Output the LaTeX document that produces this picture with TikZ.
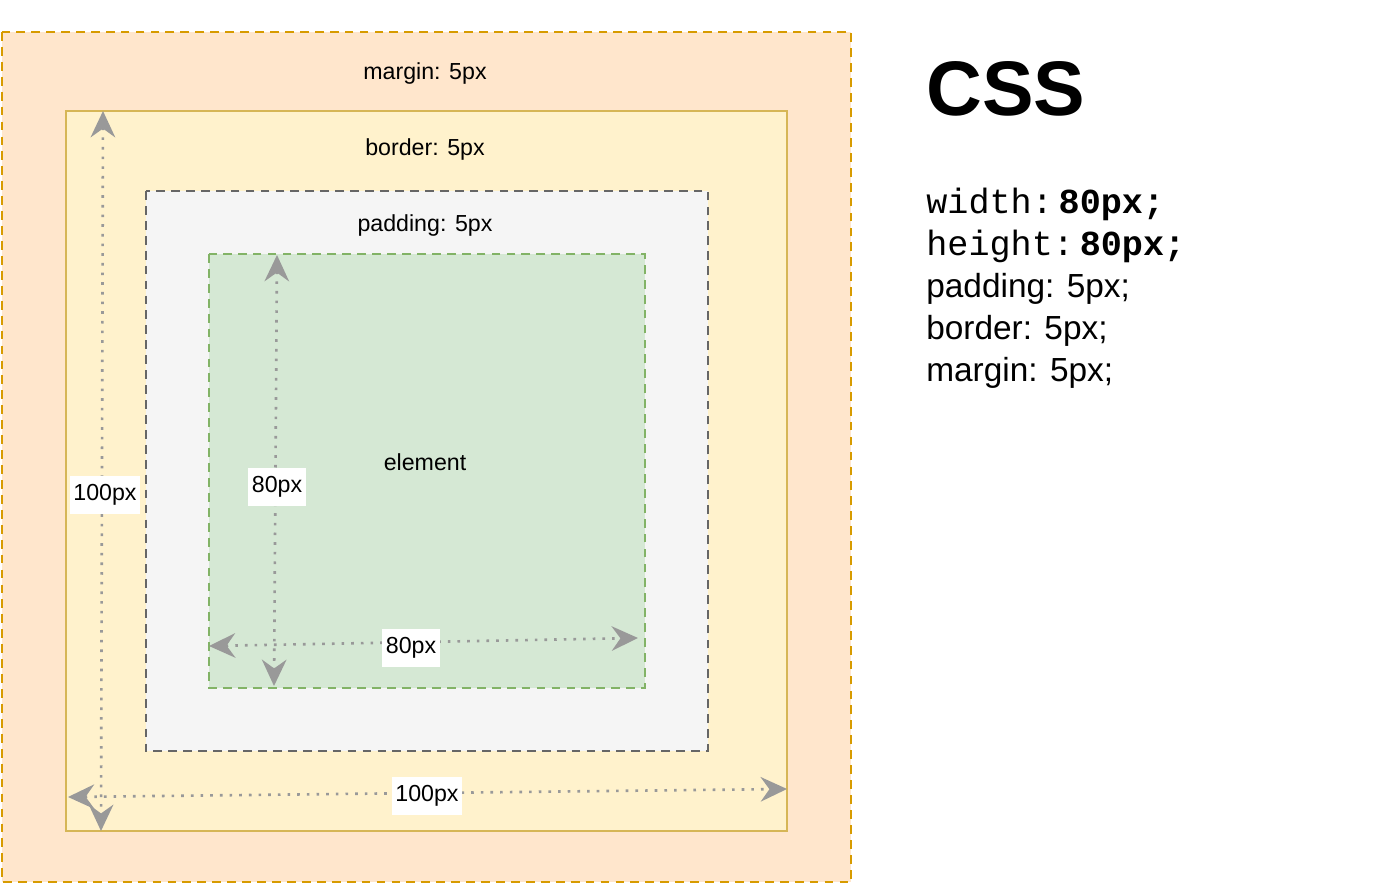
\documentclass[tikz,border=0pt]{standalone}
\usepackage{fontspec}
\setmainfont{Liberation Sans}
\newfontfamily\monofnt{Liberation Mono}
\usetikzlibrary{arrows.meta}
\definecolor{mfill}{HTML}{FFE6CC}\definecolor{mline}{HTML}{D79B00}
\definecolor{bfill}{HTML}{FFF2CC}\definecolor{bline}{HTML}{D6B656}
\definecolor{pfill}{HTML}{F5F5F5}\definecolor{pline}{HTML}{666666}
\definecolor{efill}{HTML}{D5E8D4}\definecolor{eline}{HTML}{82B366}
\definecolor{arr}{HTML}{999999}
\begin{document}
\begin{tikzpicture}[x=0.02cm,y=-0.02cm,
  lbl/.style={font=\fontsize{13.2}{15}\selectfont, inner sep=1pt},
  box/.style={line width=1.2pt},
  dsh/.style={dash pattern=on 5pt off 3.5pt},
  dim/.style={draw=arr, line width=1.5pt, dash pattern=on 1.5pt off 4pt, {Stealth[length=15pt,width=14pt,inset=5pt,fill=arr]}-{Stealth[length=15pt,width=14pt,inset=5pt,fill=arr]}},
  dimlbl/.style={lbl, fill=white, inner sep=2pt, minimum height=22pt}]
\useasboundingbox (0,0) rectangle (1400,884);
\draw[box, dsh, fill=mfill, draw=mline] (2,32) rectangle (851,882);
\draw[box, fill=bfill, draw=bline] (66,111) rectangle (787,831);
\draw[box, dsh, fill=pfill, draw=pline] (146,191) rectangle (708,751);
\draw[box, dsh, fill=efill, draw=eline] (209,254) rectangle (645,688);
\node[lbl] (m) at (425,74) {margin: 5px};
\node[lbl] (b) at (425,150) {border: 5px};
\node[lbl] (p) at (425,226) {padding: 5px};
\node[lbl] (e) at (425,462) {element};
\coordinate (v1) at (103,111); \coordinate (v2) at (101,831);
\coordinate (h1) at (68,797); \coordinate (h2) at (787,789);
\coordinate (iv1) at (277,255); \coordinate (iv2) at (274,686);
\coordinate (ih1) at (209,646); \coordinate (ih2) at (638,638);
\draw[dim] (v1) -- (v2);
\draw[dim] (h1) -- (h2);
\draw[dim] (iv1) -- (iv2);
\draw[dim] (ih1) -- (ih2);
\node[dimlbl] (l1) at (105,495) {100px};
\node[dimlbl] (l2) at (427,796) {100px};
\node[dimlbl] (l3) at (277,487) {80px};
\node[dimlbl] (l4) at (411,648) {80px};
\node[anchor=base west, font=\fontsize{44}{48}\selectfont\bfseries, inner sep=0] (css) at (926,116) {CSS};
\node[anchor=north west, inner sep=0, align=left, font=\fontsize{19}{23.8}\selectfont] (code) at (926,188)
 {{\monofnt\fontsize{20}{23.8}\selectfont width:\,\textbf{80px;}}\\{\monofnt\fontsize{20}{23.8}\selectfont height:\,\textbf{80px;}}\\padding: 5px;\\border: 5px;\\margin: 5px;};
\end{tikzpicture}
\end{document}
